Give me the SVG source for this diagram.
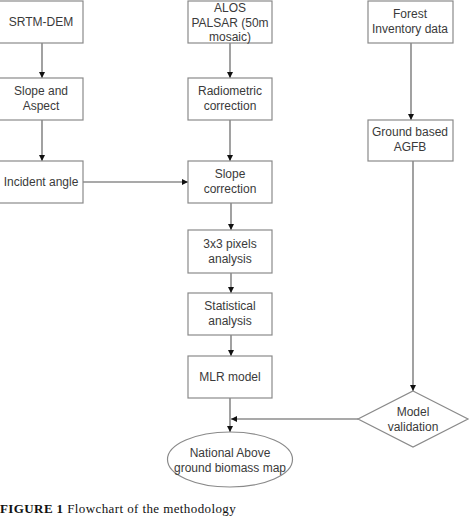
<svg xmlns="http://www.w3.org/2000/svg" width="474" height="517" viewBox="0 0 474 517">
<style>
.box{fill:#fff;stroke:#8a8a8a;stroke-width:1.2}
.t{font-family:"Liberation Sans",Arial,sans-serif;font-size:12px;fill:#3a3a3a;text-anchor:middle}
.c{stroke:#555;stroke-width:1.1;fill:none}
.cap{font-family:"Liberation Serif","Times New Roman",serif;font-size:13px;fill:#111}
</style>
<defs>
<marker id="ah" viewBox="0 0 6 6" refX="6" refY="3" markerWidth="6" markerHeight="6" markerUnits="userSpaceOnUse" orient="auto">
<path d="M0,0 L6,3 L0,6 z" fill="#111"/>
</marker>
</defs>
<rect width="474" height="517" fill="#fff"/>
<g id="connectors">
<line class="c" x1="42" y1="43" x2="42" y2="78" marker-end="url(#ah)"/>
<line class="c" x1="42" y1="120" x2="42" y2="161" marker-end="url(#ah)"/>
<line class="c" x1="230" y1="43" x2="230" y2="78" marker-end="url(#ah)"/>
<line class="c" x1="230" y1="120" x2="230" y2="161" marker-end="url(#ah)"/>
<line class="c" x1="83" y1="182" x2="188" y2="182" marker-end="url(#ah)"/>
<line class="c" x1="231" y1="203" x2="231" y2="230" marker-end="url(#ah)"/>
<line class="c" x1="231" y1="273" x2="231" y2="293" marker-end="url(#ah)"/>
<line class="c" x1="231" y1="335" x2="231" y2="356" marker-end="url(#ah)"/>
<line class="c" x1="230" y1="397" x2="230" y2="432" marker-end="url(#ah)"/>
<line class="c" x1="411" y1="43" x2="411" y2="120" marker-end="url(#ah)"/>
<line class="c" x1="413" y1="161" x2="413" y2="391" marker-end="url(#ah)"/>
<line class="c" x1="358" y1="419" x2="231" y2="419" marker-end="url(#ah)"/>
</g>
<g id="srtm"><rect class="box" x="-1" y="1" width="84" height="42"/><text class="t" x="41" y="26">SRTM-DEM</text></g>
<g id="slope-aspect"><rect class="box" x="-1" y="78" width="84" height="42"/><text class="t" x="41" y="95">Slope and</text><text class="t" x="41" y="110">Aspect</text></g>
<g id="incident"><rect class="box" x="-1" y="161" width="84" height="42"/><text class="t" x="41" y="186">Incident angle</text></g>
<g id="alos"><rect class="box" x="188" y="1" width="84" height="42"/><text class="t" x="230" y="12">ALOS</text><text class="t" x="230" y="27">PALSAR (50m</text><text class="t" x="230" y="41">mosaic)</text></g>
<g id="radiometric"><rect class="box" x="188" y="78" width="84" height="42"/><text class="t" x="230" y="95">Radiometric</text><text class="t" x="230" y="110">correction</text></g>
<g id="slope-correction"><rect class="box" x="188" y="161" width="84" height="42"/><text class="t" x="230" y="178">Slope</text><text class="t" x="230" y="193">correction</text></g>
<g id="pixels"><rect class="box" x="188" y="230" width="84" height="43"/><text class="t" x="230" y="248">3x3 pixels</text><text class="t" x="230" y="263">analysis</text></g>
<g id="statistical"><rect class="box" x="188" y="293" width="84" height="42"/><text class="t" x="230" y="310">Statistical</text><text class="t" x="230" y="325">analysis</text></g>
<g id="mlr"><rect class="box" x="188" y="356" width="84" height="42"/><text class="t" x="230" y="381">MLR model</text></g>
<g id="forest"><rect class="box" x="368" y="1" width="85" height="42"/><text class="t" x="410" y="18">Forest</text><text class="t" x="410" y="33">Inventory data</text></g>
<g id="agfb"><rect class="box" x="368" y="120" width="85" height="41"/><text class="t" x="410" y="136">Ground based</text><text class="t" x="410" y="151">AGFB</text></g>
<g id="validation"><polygon class="box" points="413,391 468,419 413,447 358,419"/><text class="t" x="413" y="416">Model</text><text class="t" x="413" y="431">validation</text></g>
<g id="map"><ellipse class="box" cx="230" cy="459.5" rx="62.5" ry="27.5"/><text class="t" x="230" y="457">National Above</text><text class="t" x="230" y="472">ground biomass map</text></g>
<text class="cap" x="0" y="513" letter-spacing="0.4"><tspan font-weight="bold">FIGURE 1</tspan> Flowchart of the methodology</text>
</svg>
